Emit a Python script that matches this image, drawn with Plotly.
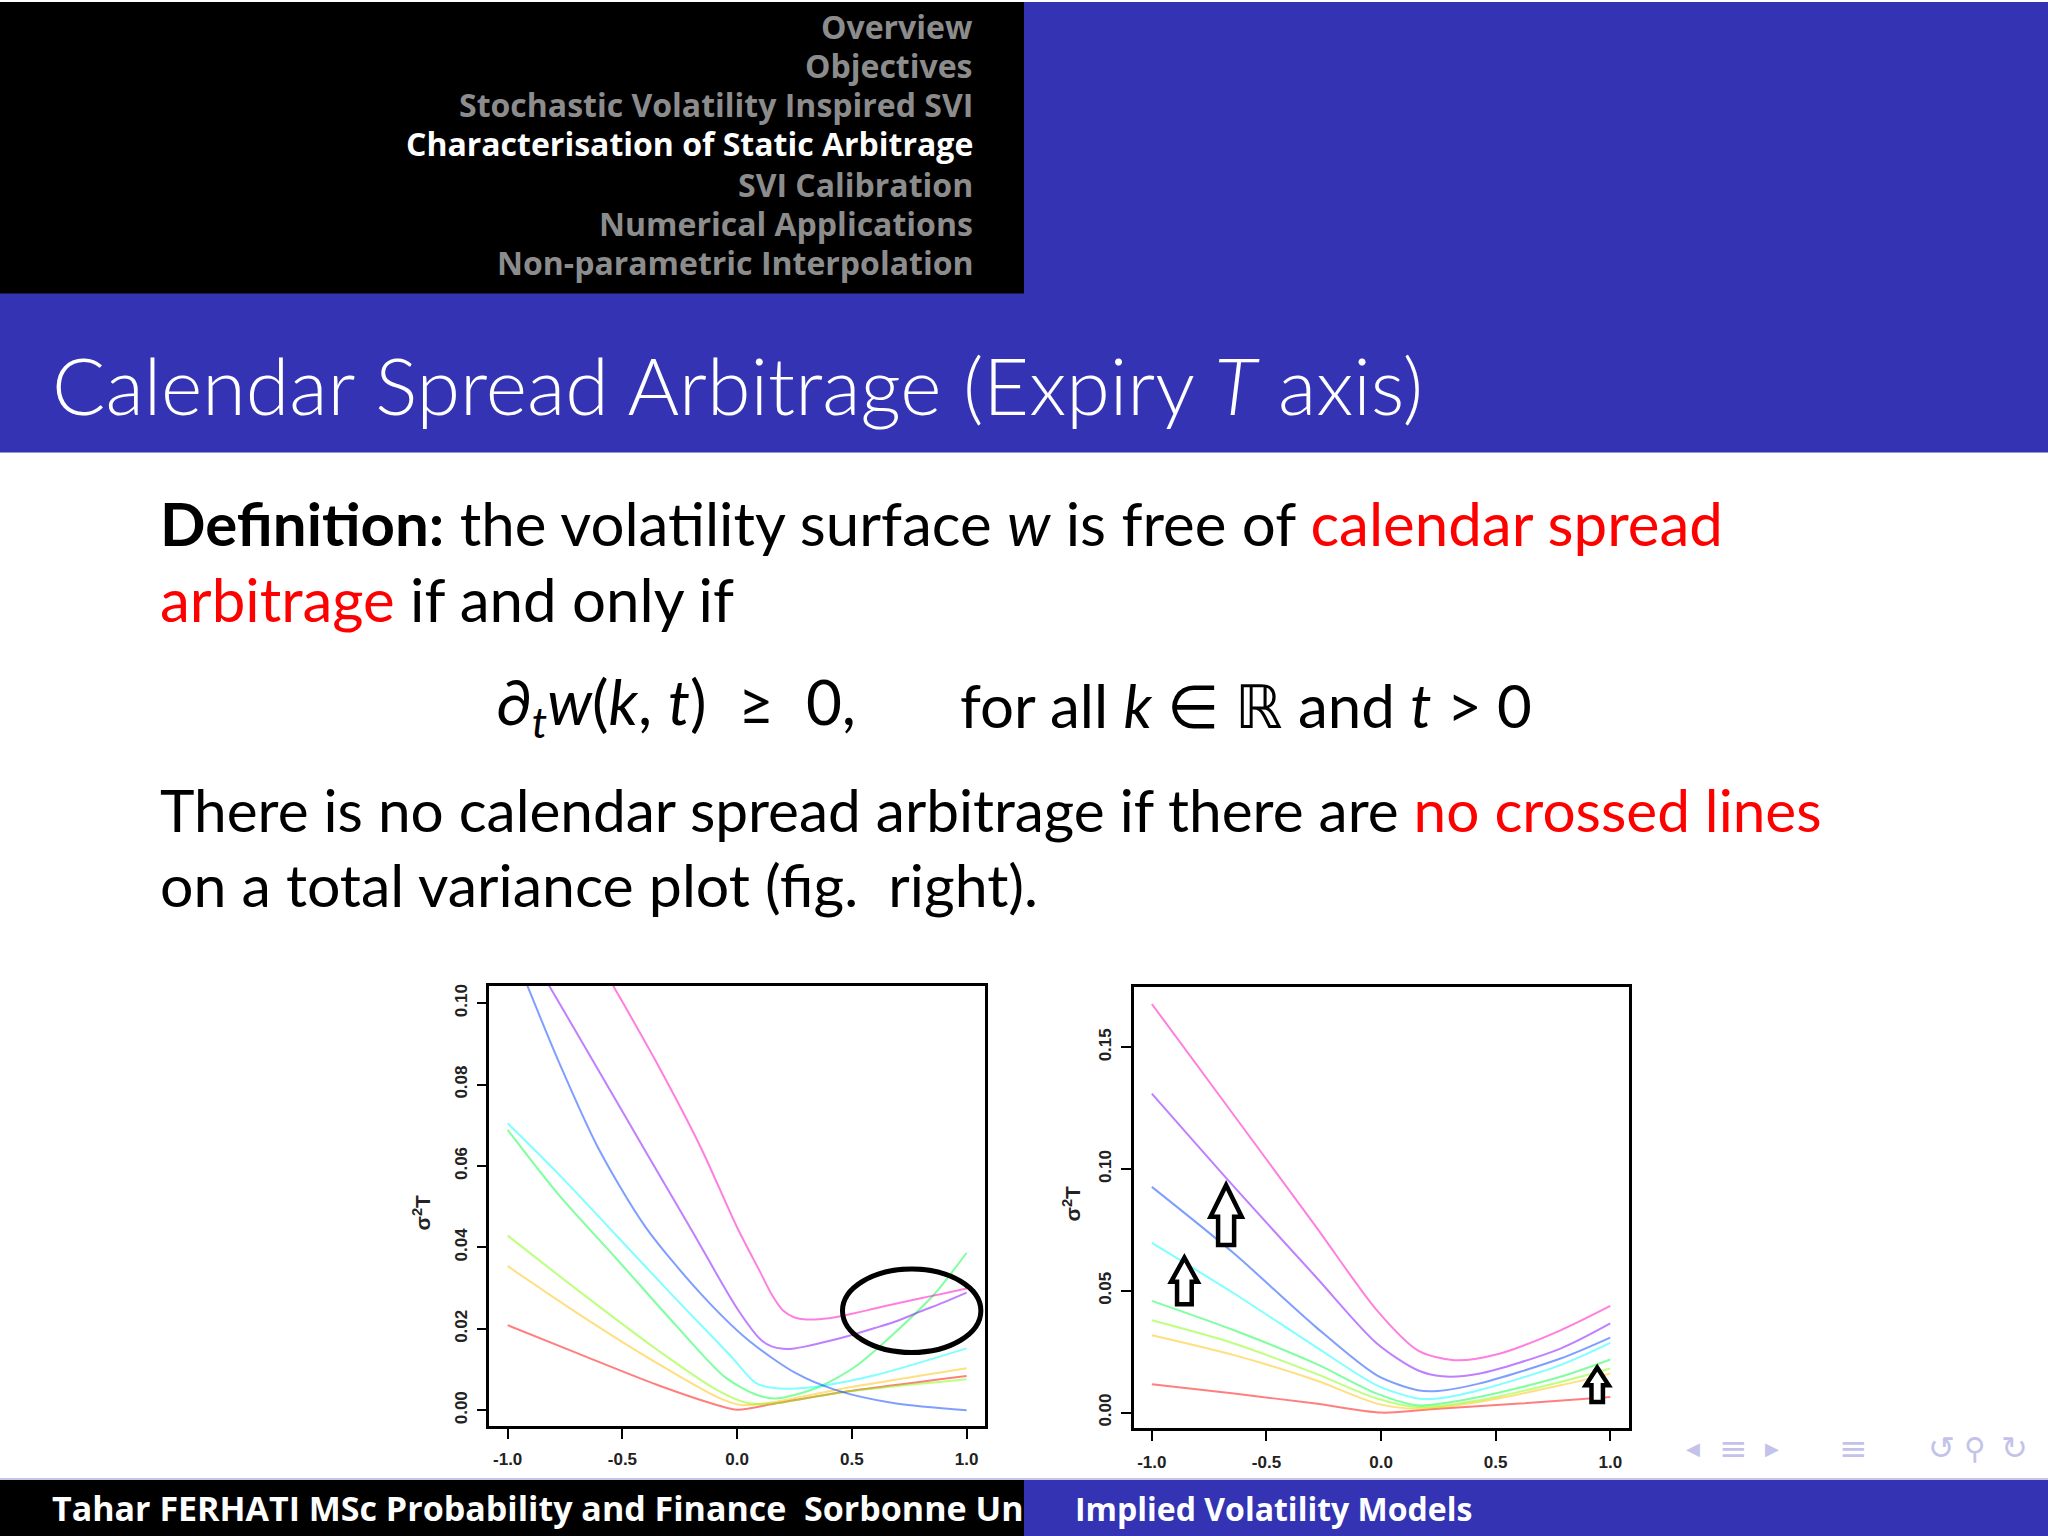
import plotly.graph_objects as go

# ---------------- data ----------------
NAV_ITEMS = ["Overview", "Objectives", "Stochastic Volatility Inspired SVI",
             "Characterisation of Static Arbitrage", "SVI Calibration",
             "Numerical Applications", "Non-parametric Interpolation"]
NAV_CURRENT = 3

SLICE_COLORS = ["#FF0000", "#FFBF00", "#80FF00", "#00FF40",
                "#00FFFF", "#0040FF", "#8000FF", "#FF00BF"]

X_TICKS = [-1.0, -0.5, 0.0, 0.5, 1.0]
X_TICK_TEXT = ["-1.0", "-0.5", "0.0", "0.5", "1.0"]
YL_TICKS = [0.00, 0.02, 0.04, 0.06, 0.08, 0.10]
YL_TICK_TEXT = ["0.00", "0.02", "0.04", "0.06", "0.08", "0.10"]
YR_TICKS = [0.00, 0.05, 0.10, 0.15]
YR_TICK_TEXT = ["0.00", "0.05", "0.10", "0.15"]

# left panel (with calendar arbitrage)
L_red_k = [-1.0, -0.692, -0.347, -0.089, 0.0, 0.17, 0.428, 1.0]
L_red_w = [0.0209, 0.0139, 0.0062, 0.0013, 0.0001, 0.0017, 0.0042, 0.0084]
L_orange_k = [-1.0, -0.692, -0.347, -0.089, 0.015, 0.17, 0.428, 1.0]
L_orange_w = [0.0354, 0.0237, 0.0115, 0.0033, 0.0013, 0.0021, 0.0050, 0.0103]
L_lgreen_k = [-1.0, -0.692, -0.347, -0.089, 0.049, 0.17, 0.428, 1.0]
L_lgreen_w = [0.0429, 0.0294, 0.0148, 0.0050, 0.0017, 0.0017, 0.0042, 0.0076]
L_green_k = [-1.0, -0.778, -0.519, -0.261, -0.054, 0.084, 0.17, 0.342, 0.514, 0.686, 0.859, 1.0]
L_green_w = [0.0689, 0.0530, 0.0368, 0.0205, 0.0082, 0.0038, 0.0029, 0.0054, 0.0107, 0.0190, 0.0285, 0.0387]
L_cyan_k = [-1.0, -0.778, -0.519, -0.261, -0.037, 0.084, 0.17, 0.342, 0.6, 1.0]
L_cyan_w = [0.0705, 0.0580, 0.0425, 0.0270, 0.0139, 0.0066, 0.0054, 0.0058, 0.0086, 0.0152]
L_blue_k = [-0.93, -0.912, -0.778, -0.606, -0.399, -0.158, 0.049, 0.256, 0.428, 0.686, 1.0]
L_blue_w = [0.1065, 0.1040, 0.0857, 0.0645, 0.0450, 0.0286, 0.0172, 0.0091, 0.0050, 0.0017, 0.0000]
L_purple_k = [-0.84, -0.816, -0.6, -0.4, -0.2, 0.0, 0.1, 0.15, 0.2, 0.25, 0.3, 0.4, 0.5, 0.6, 0.7, 0.8, 0.9, 1.0]
L_purple_w = [0.1063, 0.1040, 0.0831, 0.0637, 0.0444, 0.0250, 0.0175, 0.0157, 0.0151, 0.0152, 0.0157,
              0.0170, 0.0185, 0.0202, 0.0220, 0.0243, 0.0265, 0.0289]
L_pink_k = [-0.56, -0.537, -0.347, -0.158, 0.0, 0.1, 0.15, 0.2, 0.25, 0.3, 0.4, 0.5, 0.6, 0.7, 0.8, 0.9, 1.0]
L_pink_w = [0.1063, 0.1040, 0.0850, 0.0645, 0.0449, 0.0340, 0.0285, 0.0245, 0.0228, 0.0223, 0.0226,
            0.0237, 0.0250, 0.0263, 0.0275, 0.0287, 0.0299]

# right panel (arbitrage free)
R_red_k = [-1.0, -0.641, -0.285, 0.0, 0.249, 0.605, 1.0]
R_red_w = [0.0116, 0.0078, 0.0037, 0.0000, 0.0016, 0.0037, 0.0064]
R_orange_k = [-1.0, -0.641, -0.285, -0.018, 0.16, 0.427, 0.783, 1.0]
R_orange_w = [0.0318, 0.0236, 0.0133, 0.0037, 0.0016, 0.0044, 0.0112, 0.0160]
R_lgreen_k = [-1.0, -0.641, -0.285, -0.018, 0.16, 0.427, 0.783, 1.0]
R_lgreen_w = [0.0379, 0.0284, 0.0160, 0.0058, 0.0023, 0.0051, 0.0126, 0.0181]
R_green_k = [-1.0, -0.641, -0.285, -0.018, 0.16, 0.427, 0.783, 1.0]
R_green_w = [0.0459, 0.0338, 0.0201, 0.0078, 0.0030, 0.0064, 0.0147, 0.0218]
R_cyan_k = [-1.0, -0.641, -0.285, -0.018, 0.16, 0.249, 0.427, 0.783, 1.0]
R_cyan_w = [0.0697, 0.0489, 0.0270, 0.0112, 0.0058, 0.0058, 0.0092, 0.0195, 0.0286]
R_blue_k = [-1.0, -0.641, -0.285, -0.018, 0.16, 0.249, 0.427, 0.783, 1.0]
R_blue_w = [0.0927, 0.0653, 0.0352, 0.0153, 0.0092, 0.0089, 0.0119, 0.0222, 0.0308]
R_purple_k = [-1.0, -0.641, -0.285, -0.018, 0.16, 0.267, 0.427, 0.783, 1.0]
R_purple_w = [0.1310, 0.0927, 0.0558, 0.0284, 0.0174, 0.0149, 0.0160, 0.0263, 0.0366]
R_pink_k = [-1.0, -0.641, -0.285, -0.018, 0.16, 0.32, 0.516, 0.783, 1.0]
R_pink_w = [0.1678, 0.1220, 0.0765, 0.0420, 0.0256, 0.0215, 0.0242, 0.0338, 0.0438]

LEFT_SLICES = [(L_red_k, L_red_w), (L_orange_k, L_orange_w), (L_lgreen_k, L_lgreen_w),
               (L_green_k, L_green_w), (L_cyan_k, L_cyan_w), (L_blue_k, L_blue_w),
               (L_purple_k, L_purple_w), (L_pink_k, L_pink_w)]
RIGHT_SLICES = [(R_red_k, R_red_w), (R_orange_k, R_orange_w), (R_lgreen_k, R_lgreen_w),
                (R_green_k, R_green_w), (R_cyan_k, R_cyan_w), (R_blue_k, R_blue_w),
                (R_purple_k, R_purple_w), (R_pink_k, R_pink_w)]

# highlight ellipse on left panel (data coords) and up-arrows on right panel
ELLIPSE = dict(k0=0.459, k1=1.062, w0=0.0142, w1=0.0347)
# (centre k, base w, head-base w, tip w, shaft half-width, head half-width)
ARROWS = [(-0.676, 0.0688, 0.0804, 0.0934, 0.035, 0.068),
          (-0.858, 0.0445, 0.0537, 0.0636, 0.032, 0.058),
          (0.943, 0.0044, 0.0112, 0.0185, 0.025, 0.050)]

# ---------------- layout helpers ----------------
W, H = 2048, 1536
BLUE = "#3333B3"
RED = "#FF0000"
FONT = "Lato"
HEAD_FONT = "Open Sans"


def px(x):
    return x / W


def py(y):
    return 1 - y / H


def rgba(hexc, a):
    hexc = hexc.lstrip("#")
    r, g, b = int(hexc[0:2], 16), int(hexc[2:4], 16), int(hexc[4:6], 16)
    return f"rgba({r},{g},{b},{a})"


fig = go.Figure()

for (k, w), c in zip(LEFT_SLICES, SLICE_COLORS):
    fig.add_trace(go.Scatter(x=k, y=w, mode="lines", xaxis="x", yaxis="y",
                             line=dict(color=rgba(c, 0.5), width=2, shape="spline", smoothing=0.8),
                             showlegend=False, hoverinfo="skip"))
for (k, w), c in zip(RIGHT_SLICES, SLICE_COLORS):
    fig.add_trace(go.Scatter(x=k, y=w, mode="lines", xaxis="x2", yaxis="y2",
                             line=dict(color=rgba(c, 0.5), width=2, shape="spline", smoothing=0.8),
                             showlegend=False, hoverinfo="skip"))

shapes = []
# background bands
shapes += [
    dict(type="rect", xref="paper", yref="paper", x0=0, x1=px(1024), y0=py(293), y1=1,
         fillcolor="black", line_width=0, layer="below"),
    dict(type="rect", xref="paper", yref="paper", x0=px(1024), x1=1, y0=py(293), y1=1,
         fillcolor=BLUE, line_width=0, layer="below"),
    dict(type="rect", xref="paper", yref="paper", x0=0, x1=1, y0=py(451), y1=py(292),
         fillcolor=BLUE, line_width=0, layer="below"),
    dict(type="rect", xref="paper", yref="paper", x0=0, x1=px(1024), y0=0, y1=py(1480),
         fillcolor="black", line_width=0, layer="below"),
    dict(type="rect", xref="paper", yref="paper", x0=px(1024), x1=1, y0=0, y1=py(1480),
         fillcolor=BLUE, line_width=0, layer="below"),
    dict(type="line", xref="paper", yref="paper", x0=0, x1=1, y0=py(1479), y1=py(1479),
         line=dict(color="#c4c4e6", width=2), layer="below"),
]
# ellipse
shapes.append(dict(type="circle", xref="x", yref="y", x0=ELLIPSE["k0"], x1=ELLIPSE["k1"],
                   y0=ELLIPSE["w0"], y1=ELLIPSE["w1"], line=dict(color="black", width=5),
                   layer="above"))
# arrows
for xc, yb, yh, yt, sh, hh in ARROWS:
    path = (f"M {xc - sh},{yb} L {xc - sh},{yh} L {xc - hh},{yh} L {xc},{yt} "
            f"L {xc + hh},{yh} L {xc + sh},{yh} L {xc + sh},{yb} Z")
    shapes.append(dict(type="path", xref="x2", yref="y2", path=path,
                       fillcolor="white", line=dict(color="black", width=4.5), layer="above"))

annotations = []
# navigation (section list)
nav_y = [25, 64, 103, 142, 183, 222, 261]
for i, (item, yy) in enumerate(zip(NAV_ITEMS, nav_y)):
    annotations.append(dict(xref="paper", yref="paper", x=px(975), y=py(yy), text=item,
                            xanchor="right", yanchor="middle", showarrow=False,
                            font=dict(family=HEAD_FONT, size=32, weight="bold",
                                      color="white" if i == NAV_CURRENT else "#8c8c8c")))
# frame title
annotations.append(dict(xref="paper", yref="paper", x=px(50), y=py(383),
                        text="Calendar Spread Arbitrage (Expiry <i>T</i> axis)",
                        xanchor="left", yanchor="middle", showarrow=False,
                        font=dict(family=FONT, size=79, color="white", weight=300)))
# body
body = [
    (158, 522, 60, f"<b>Definition:</b> the volatility surface <i>w</i> is free of "
                   f"<span style='color:{RED}'>calendar spread</span>"),
    (158, 598, 60, f"<span style='color:{RED}'>arbitrage</span> if and only if"),
    (158, 808, 58.5, f"There is no calendar spread arbitrage if there are "
                     f"<span style='color:{RED}'>no crossed lines</span>"),
    (158, 884, 59, "on a total variance plot (fig.  right)."),
]
for x0, y0, sz, t in body:
    annotations.append(dict(xref="paper", yref="paper", x=px(x0), y=py(y0), text=t,
                            xanchor="left", yanchor="middle", showarrow=False,
                            font=dict(family=FONT, size=sz, color="black")))
annotations.append(dict(xref="paper", yref="paper", x=px(494), y=py(704),
                        text="∂<sub><i>t</i></sub><i>w</i>(<i>k</i>, <i>t</i>) &nbsp;≥&nbsp; 0,",
                        xanchor="left", yanchor="middle", showarrow=False,
                        font=dict(family=FONT, size=62, color="black")))
annotations.append(dict(xref="paper", yref="paper", x=px(958), y=py(704),
                        text="for all <i>k</i> ∈ ℝ and <i>t</i> &gt; 0",
                        xanchor="left", yanchor="middle", showarrow=False,
                        font=dict(family=FONT, size=60, color="black")))
# y-axis titles
for xx, yy in [(422, 1212), (1072, 1203)]:
    annotations.append(dict(xref="paper", yref="paper", x=px(xx), y=py(yy), text="σ<sup>2</sup>T",
                            textangle=-90, showarrow=False, xanchor="center", yanchor="middle",
                            font=dict(family="Liberation Sans", size=21, weight="bold", color="#222")))
# footer
annotations.append(dict(xref="paper", yref="paper", x=px(50), y=py(1508),
                        text="Tahar FERHATI MSc Probability and Finance  Sorbonne Un",
                        xanchor="left", yanchor="middle", showarrow=False,
                        font=dict(family=HEAD_FONT, size=34, weight="bold", color="white")))
annotations.append(dict(xref="paper", yref="paper", x=px(1073), y=py(1508),
                        text="Implied Volatility Models",
                        xanchor="left", yanchor="middle", showarrow=False,
                        font=dict(family=HEAD_FONT, size=32, weight="bold", color="white")))
# beamer navigation symbols
for xx, sym, sz in [(1693, "◀", 18), (1733, "≡", 34), (1772, "▶", 18), (1853, "≡", 34),
                    (1941, "↺", 32), (1975, "⚲", 30), (2014, "↻", 32)]:
    annotations.append(dict(xref="paper", yref="paper", x=px(xx), y=py(1448), text=sym,
                            showarrow=False, xanchor="center", yanchor="middle",
                            font=dict(family="DejaVu Sans", size=sz, color="#c3c3ea")))

axis_common = dict(showline=True, mirror=True, linecolor="black", linewidth=2.5,
                   ticks="outside", ticklen=10, tickwidth=2, tickcolor="black",
                   showgrid=False, zeroline=False,
                   tickfont=dict(family="Liberation Sans", size=17, weight="bold", color="#222"))

fig.update_layout(
    width=W, height=H, autosize=False,
    margin=dict(l=0, r=0, t=0, b=0),
    paper_bgcolor="white", plot_bgcolor="white",
    showlegend=False,
    shapes=shapes, annotations=annotations,
    xaxis=dict(domain=[px(489.3), px(985)], range=[-1.08, 1.08], anchor="y",
               tickvals=X_TICKS, ticktext=X_TICK_TEXT, ticklabelstandoff=6, **axis_common),
    yaxis=dict(domain=[py(1426), py(985)], range=[-0.0039, 0.1043], anchor="x",
               tickvals=YL_TICKS, ticktext=YL_TICK_TEXT, tickangle=-90, ticklabelstandoff=3,
               **axis_common),
    xaxis2=dict(domain=[px(1133.5), px(1628.6)], range=[-1.08, 1.08], anchor="y2",
                tickvals=X_TICKS, ticktext=X_TICK_TEXT, ticklabelstandoff=6, **axis_common),
    yaxis2=dict(domain=[py(1428.3), py(986.7)], range=[-0.0065, 0.1746], anchor="x2",
                tickvals=YR_TICKS, ticktext=YR_TICK_TEXT, tickangle=-90, ticklabelstandoff=3,
                **axis_common),
)

fig.write_html("out.html", config={"displayModeBar": False},
               post_script="document.body.style.margin='0px';document.body.style.padding='0px';")
